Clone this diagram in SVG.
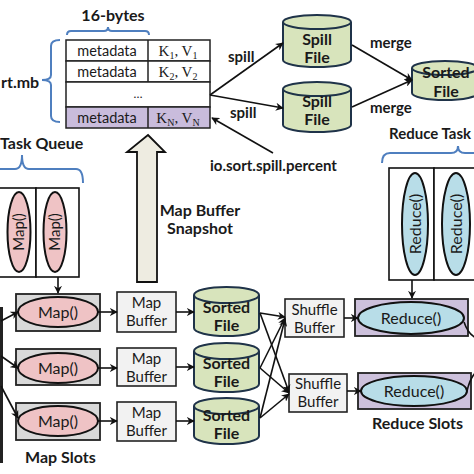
<svg xmlns="http://www.w3.org/2000/svg" width="474" height="474" viewBox="0 0 474 474">
<defs>
<marker id="ah" viewBox="0 0 10 10" refX="9" refY="5" markerWidth="5" markerHeight="5" orient="auto" markerUnits="strokeWidth">
<path d="M0,0 L10,5 L0,10 L3,5 Z" fill="#111"/>
</marker>
<style>
text{font-family:Lato,"Liberation Sans",sans-serif;fill:#1a1a1a}
.b{font-weight:bold}
.c{text-anchor:middle}
.ln{stroke:#111;stroke-width:1.6;fill:none;marker-end:url(#ah)}
.br{stroke:#4f7fbf;stroke-width:2;fill:none}
.cell{fill:#fff;stroke:#222;stroke-width:1.5}
.pur{fill:#c9bcdc;stroke:#222;stroke-width:1.5}
.cyl{fill:#d8e4bc;stroke:#1f3349;stroke-width:2}
.mapE{fill:#efc3c5;stroke:#111;stroke-width:2}
.redE{fill:#b8dde8;stroke:#111;stroke-width:2}
.slotG{fill:#d9d9d9;stroke:#222;stroke-width:1.8}
.slotP{fill:#cdc1dc;stroke:#222;stroke-width:1.8}
.buf{fill:#f2f2f2;stroke:#222;stroke-width:1.6}
.tq{fill:#fff;stroke:#111;stroke-width:1.6}
.kv{font-family:"Liberation Serif",serif;font-size:15px}
</style>
</defs>

<g id="buffer-table">
<text class="b c" x="113" y="21" font-size="16">16-bytes</text>
<path class="br" d="M67 35 Q67 31 71 31 L104 31 Q108 31 108 27 Q108 31 112 31 L145 31 Q149 31 149 35"/>
<path class="br" d="M60 40 Q51 40 51 46 L51 75 Q51 80 42 80 Q51 80 51 85 L51 116 Q51 122 60 122"/>
<text class="b" x="1" y="88" font-size="16">rt.mb</text>
<rect class="cell" x="66" y="40" width="144" height="21"/>
<rect class="cell" x="66" y="61" width="144" height="21"/>
<rect class="cell" x="66" y="82" width="144" height="25"/>
<rect class="pur" x="66" y="107" width="144" height="21"/>
<line x1="148" y1="40" x2="148" y2="82" stroke="#222" stroke-width="1.5"/>
<line x1="148" y1="107" x2="148" y2="128" stroke="#222" stroke-width="1.5"/>
<text class="c" x="107" y="56" font-size="14.5">metadata</text>
<text class="c" x="107" y="77" font-size="14.5">metadata</text>
<text class="c" x="138" y="98" font-size="12">…</text>
<text class="c" x="107" y="123" font-size="14.5">metadata</text>
<text class="kv c" x="178" y="56">K<tspan font-size="10" dy="3">1</tspan><tspan dy="-3">, V</tspan><tspan font-size="10" dy="3">1</tspan></text>
<text class="kv c" x="178" y="77">K<tspan font-size="10" dy="3">2</tspan><tspan dy="-3">, V</tspan><tspan font-size="10" dy="3">2</tspan></text>
<text class="kv c" x="178" y="123">K<tspan font-size="10" dy="3">N</tspan><tspan dy="-3">, V</tspan><tspan font-size="10" dy="3">N</tspan></text>
</g>

<g id="spill-file-1">
<path class="cyl" d="M283 22 L283 60 A34 7 0 0 0 351 60 L351 22"/>
<ellipse class="cyl" cx="317" cy="22" rx="34" ry="7"/>
<text class="b c" x="317" y="45" font-size="16">Spill</text>
<text class="b c" x="317" y="63" font-size="16">File</text>
</g>
<g id="spill-file-2">
<path class="cyl" d="M283 89 L283 125 A34 7 0 0 0 351 125 L351 89"/>
<ellipse class="cyl" cx="317" cy="89" rx="34" ry="7"/>
<text class="b c" x="317" y="107" font-size="16">Spill</text>
<text class="b c" x="317" y="125" font-size="16">File</text>
</g>
<g id="sorted-file-top">
<path class="cyl" d="M412 68 L412 93 A33 7 0 0 0 478 93 L478 68"/>
<ellipse class="cyl" cx="445" cy="68" rx="33" ry="7"/>
<text class="b c" x="446" y="78" font-size="16">Sorted</text>
<text class="b c" x="446" y="97" font-size="16">File</text>
</g>

<g id="snapshot-arrow">
<polygon points="148,135 165,152 157,152 157,282 137,282 137,152 127,152" fill="#eeece1" stroke="#111" stroke-width="1.8"/>
<text class="b c" x="200" y="216" font-size="16">Map Buffer</text>
<text class="b c" x="200" y="234" font-size="16">Snapshot</text>
</g>

<g id="labels">
<text class="b" x="228" y="62" font-size="15">spill</text>
<text class="b" x="230" y="118" font-size="15">spill</text>
<text class="b" x="370" y="48" font-size="15">merge</text>
<text class="b" x="370" y="113" font-size="15">merge</text>
<text class="b" x="210" y="171" font-size="15">io.sort.spill.percent</text>
<text class="b" x="0" y="149" font-size="16">Task Queue</text>
<text class="b" x="471" y="139" font-size="15" text-anchor="end">Reduce Task</text>
<text class="b" x="25" y="463" font-size="16">Map Slots</text>
<text class="b" x="372" y="429" font-size="16">Reduce Slots</text>
</g>

<g id="map-task-queue">
<path class="br" d="M-40 183 Q-40 169 -30 169 L15 169 Q22 169 22 155 Q22 169 29 169 L76 169 Q83 169 83 183"/>
<rect class="tq" x="-6" y="188" width="42" height="89"/>
<rect class="tq" x="36" y="188" width="43" height="89"/>
<ellipse class="mapE" cx="19" cy="232" rx="11.5" ry="40"/>
<ellipse class="mapE" cx="55" cy="232" rx="11.5" ry="40"/>
<text class="c" font-size="15" transform="translate(24,232) rotate(-90)">Map()</text>
<text class="c" font-size="15" transform="translate(60,232) rotate(-90)">Map()</text>
</g>

<g id="reduce-task-queue">
<path class="br" d="M382 163 Q382 153 390 153 L451 153 Q458 153 458 146 Q458 153 465 153 L500 153"/>
<rect class="tq" x="389" y="168" width="45" height="112"/>
<rect class="tq" x="434" y="168" width="46" height="112"/>
<ellipse class="redE" cx="415" cy="224" rx="13" ry="51"/>
<ellipse class="redE" cx="456" cy="224" rx="14" ry="51"/>
<text class="c" font-size="16" transform="translate(421,224) rotate(-90)">Reduce()</text>
<text class="c" font-size="16" transform="translate(462,224) rotate(-90)">Reduce()</text>
</g>

<g id="map-slot-1">
<rect class="slotG" x="16" y="294" width="84" height="37"/>
<ellipse class="mapE" cx="58" cy="312" rx="40" ry="15"/>
<text class="c" x="58" y="318" font-size="16">Map()</text>
</g>
<g id="map-slot-2">
<rect class="slotG" x="16" y="349" width="84" height="36"/>
<ellipse class="mapE" cx="58" cy="368" rx="40" ry="15"/>
<text class="c" x="58" y="374" font-size="16">Map()</text>
</g>
<g id="map-slot-3">
<rect class="slotG" x="16" y="403" width="84" height="37"/>
<ellipse class="mapE" cx="58" cy="421" rx="40" ry="15"/>
<text class="c" x="58" y="427" font-size="16">Map()</text>
</g>

<g id="map-buffer-1">
<rect class="buf" x="117" y="292" width="59" height="40"/>
<text class="c" x="146.5" y="308" font-size="15">Map</text>
<text class="c" x="146.5" y="326" font-size="15">Buffer</text>
</g>
<g id="map-buffer-2">
<rect class="buf" x="117" y="348" width="59" height="38"/>
<text class="c" x="146.5" y="364" font-size="15">Map</text>
<text class="c" x="146.5" y="382" font-size="15">Buffer</text>
</g>
<g id="map-buffer-3">
<rect class="buf" x="117" y="402" width="59" height="39"/>
<text class="c" x="146.5" y="418" font-size="15">Map</text>
<text class="c" x="146.5" y="436" font-size="15">Buffer</text>
</g>

<g id="sorted-file-1">
<path class="cyl" d="M194 295 L194 328 A32.5 8 0 0 0 259 328 L259 295"/>
<ellipse class="cyl" cx="226.5" cy="295" rx="32.5" ry="8"/>
<text class="b c" x="226.5" y="313" font-size="16">Sorted</text>
<text class="b c" x="226.5" y="331" font-size="16">File</text>
</g>
<g id="sorted-file-2">
<path class="cyl" d="M194 351 L194 384 A32.5 8 0 0 0 259 384 L259 351"/>
<ellipse class="cyl" cx="226.5" cy="351" rx="32.5" ry="8"/>
<text class="b c" x="226.5" y="369" font-size="16">Sorted</text>
<text class="b c" x="226.5" y="387" font-size="16">File</text>
</g>
<g id="sorted-file-3">
<path class="cyl" d="M194 406 L194 436 A32.5 8 0 0 0 259 436 L259 406"/>
<ellipse class="cyl" cx="226.5" cy="406" rx="32.5" ry="8"/>
<text class="b c" x="226.5" y="421" font-size="16">Sorted</text>
<text class="b c" x="226.5" y="439" font-size="16">File</text>
</g>

<g id="shuffle-buffer-1">
<rect class="buf" x="285" y="299" width="59" height="38"/>
<text class="c" x="314.5" y="315" font-size="15">Shuffle</text>
<text class="c" x="314.5" y="333" font-size="15">Buffer</text>
</g>
<g id="shuffle-buffer-2">
<rect class="buf" x="289" y="374" width="58" height="38"/>
<text class="c" x="318" y="389" font-size="15">Shuffle</text>
<text class="c" x="318" y="407" font-size="15">Buffer</text>
</g>

<g id="reduce-slot-1">
<rect class="slotP" x="355" y="299" width="113" height="37"/>
<ellipse class="redE" cx="411" cy="318" rx="53" ry="16"/>
<text class="c" x="411" y="324" font-size="16">Reduce()</text>
</g>
<g id="reduce-slot-2">
<rect class="slotP" x="358" y="373" width="113" height="36"/>
<ellipse class="redE" cx="414" cy="391" rx="53" ry="15"/>
<text class="c" x="414" y="397" font-size="16">Reduce()</text>
</g>

<g id="connectors">
<line class="ln" x1="210" y1="95" x2="283" y2="43"/>
<line class="ln" x1="210" y1="95" x2="283" y2="108"/>
<line class="ln" x1="273" y1="153" x2="212" y2="118"/>
<line class="ln" x1="352" y1="45" x2="412" y2="80"/>
<line class="ln" x1="352" y1="107" x2="412" y2="80"/>
<line class="ln" x1="58" y1="277" x2="58" y2="293"/>
<line class="ln" x1="412" y1="280" x2="412" y2="298"/>
<line x1="1.5" y1="307" x2="1.5" y2="463" stroke="#222" stroke-width="3"/>
<line class="ln" x1="1" y1="321" x2="18" y2="312"/>
<line class="ln" x1="1" y1="356" x2="18" y2="368"/>
<line class="ln" x1="1" y1="386" x2="18" y2="418"/>
<line class="ln" x1="98" y1="312" x2="117" y2="312"/>
<line class="ln" x1="98" y1="368" x2="117" y2="368"/>
<line class="ln" x1="98" y1="421" x2="117" y2="421"/>
<line class="ln" x1="176" y1="312" x2="194" y2="312"/>
<line class="ln" x1="176" y1="367" x2="194" y2="367"/>
<line class="ln" x1="176" y1="421" x2="194" y2="421"/>
<line class="ln" x1="260" y1="313" x2="285" y2="317"/>
<line class="ln" x1="260" y1="313" x2="289" y2="392"/>
<line class="ln" x1="260" y1="368" x2="285" y2="318"/>
<line class="ln" x1="260" y1="368" x2="289" y2="393"/>
<line class="ln" x1="260" y1="418" x2="285" y2="319"/>
<line class="ln" x1="260" y1="418" x2="289" y2="394"/>
<line class="ln" x1="344" y1="318" x2="358" y2="318"/>
<line class="ln" x1="347" y1="391" x2="361" y2="391"/>
<path d="M464 322 Q468 334 476 338" stroke="#111" stroke-width="1.6" fill="none"/>
<path d="M467 391 Q470 378 476 372" stroke="#111" stroke-width="1.6" fill="none"/>
</g>
</svg>
